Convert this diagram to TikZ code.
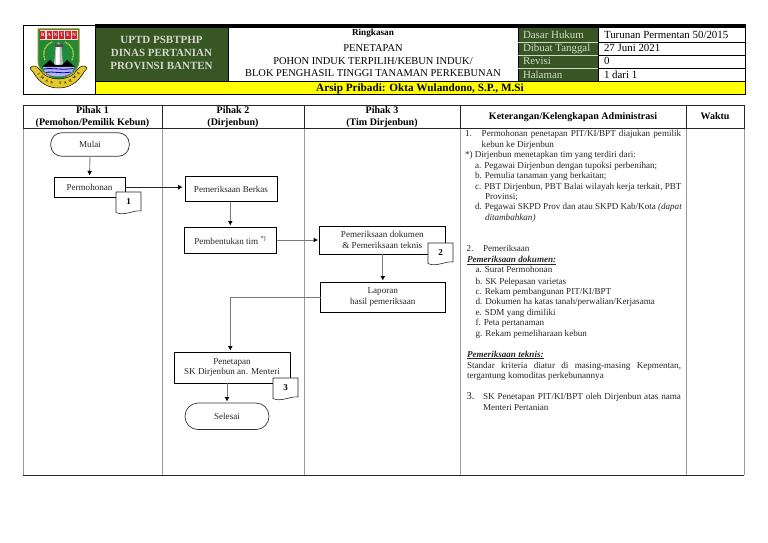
\documentclass[tikz,border=0pt]{standalone}
\usepackage{fontspec}
\setmainfont{Liberation Serif}
\usetikzlibrary{arrows.meta,calc}
\definecolor{hgreen}{HTML}{375623}
\definecolor{hlight}{HTML}{D4D8CC}
\definecolor{hyellow}{HTML}{FFFF00}
\definecolor{ink}{HTML}{262626}
\definecolor{lgray}{HTML}{9A9A9A}
\definecolor{cgray}{HTML}{7A7A7A}
\definecolor{lgold}{HTML}{E3C92B}
\definecolor{lgreen}{HTML}{1E8A3A}
\definecolor{lred}{HTML}{C8242B}
\tikzset{
  every node/.style={inner sep=0pt,outer sep=0pt},
  flowbox/.style={draw=black,line width=0.9pt,fill=white,align=center,font=\fontsize{9.1}{10.5}\selectfont,text=ink},
  term/.style={draw=black!80,line width=0.7pt,fill=white,rounded corners=11pt,align=center,font=\fontsize{9.1}{10}\selectfont,text=ink},
  docnum/.style={font=\fontsize{9}{10}\selectfont\bfseries},
  conn/.style={draw=cgray,line width=0.9pt,shorten >=1.5pt,-{Latex[length=4.5pt,width=5pt,black]}},
  connk/.style={draw=black!85,line width=0.6pt,shorten >=2.5pt,-{Latex[length=4.5pt,width=5pt,black]}},
  grid/.style={draw=lgray,line width=0.8pt},
  tbl/.style={draw=black!85,line width=0.9pt},
  body/.style={anchor=base west,font=\fontsize{9.1}{10}\selectfont,text=ink},
  hdr/.style={anchor=base,font=\fontsize{10}{10}\selectfont\bfseries,text=black},
  titl/.style={anchor=base,font=\fontsize{10.45}{10}\selectfont,text=black},
  uptd/.style={anchor=base,font=\fontsize{11}{10}\selectfont\bfseries,text=hlight},
  side/.style={anchor=base west,font=\fontsize{10.9}{10}\selectfont},
}
\newcommand{\just}[2]{\makebox[#1pt][s]{#2}}
% name, x, y (top-left), number
\newcommand{\docmark}[4]{%
  \draw[draw=black!85,line width=0.6pt,fill=white] (#2,#3) -- ++(25,0) -- ++(0,19)
    .. controls ++(-6,-1.5) and ++(8,4) .. ++(-25,1.5) -- cycle;
  \node[docnum] (#1) at (#2+12.5,#3+9.5) {#4};}
\begin{document}
\begin{tikzpicture}[x=1pt,y=-1pt]
\useasboundingbox (0,0) rectangle (768,543);
\fill[white] (0,0) rectangle (768,543);

% ---------- header
\fill[hgreen] (95,28) rectangle (228,81);
\fill[hgreen] (518,28) rectangle (598,81);
\fill[hyellow] (95,81) rectangle (745,94);
\fill[black] (95,24.5) rectangle (745.5,28);
\draw[draw=black,line width=0.8pt] (23.5,25) rectangle (745.5,94);
\draw[draw=black,line width=0.8pt] (95,25) -- (95,94) (95,81) -- (745.5,81);
\draw[draw=black,line width=0.6pt] (228,28) -- (228,81) (518,28) -- (518,81) (598,28) -- (598,81);
\foreach \yy in {42,55,68} \draw[draw=black,line width=0.7pt] (598,\yy) -- (745.5,\yy);
\foreach \yy in {42,55,68} \draw[draw=hlight,line width=0.3pt] (518,\yy) -- (598,\yy);

\node[uptd] (u1) at (161.5,44) {UPTD PSBTPHP};
\node[uptd] (u2) at (161.5,56.7) {DINAS PERTANIAN};
\node[uptd] (u3) at (161.5,70) {PROVINSI BANTEN};

\node[anchor=base,font=\fontsize{9.2}{10}\selectfont\bfseries] (t0) at (373,36) {Ringkasan};
\node[titl] (t1) at (373,52) {PENETAPAN};
\node[titl] (t2) at (373,64) {POHON INDUK TERPILIH/KEBUN INDUK/};
\node[titl] (t3) at (373,76) {BLOK PENGHASIL TINGGI TANAMAN PERKEBUNAN};
\node[anchor=base,font=\fontsize{11.2}{10}\selectfont\bfseries] (arsip) at (420,91) {Arsip Pribadi: Okta Wulandono, S.P., M.Si};

\node[side,text=hlight] (s1) at (523,38.5) {Dasar Hukum};
\node[side,text=hlight] (s2) at (523,51.7) {Dibuat Tanggal};
\node[side,text=hlight] (s3) at (523,65) {Revisi};
\node[side,text=hlight] (s4) at (523,78) {Halaman};
\node[side] (v1) at (604,38.5) {Turunan Permentan 50/2015};
\node[side] (v2) at (604,51.7) {27 Juni 2021};
\node[side] (v3) at (604,65) {0};
\node[side] (v4) at (604,78) {1 dari 1};

% ---------- logo
\path[draw=lgold!70!black,line width=1pt,fill=lgreen]
  (38,29) -- (79,29) -- (79,62) .. controls (78,72) and (68,76) .. (58.5,81)
  .. controls (49,76) and (39,72) .. (38,62) -- cycle;
\fill[white!85!red] (39.5,30) rectangle (77.5,40);
\foreach \c/\k in {B/0,A/1,N/2,T/3,E/4,N/5}
  \node[fill=lred,text=white,font=\fontsize{5}{5}\selectfont\bfseries,minimum width=5.2pt,minimum height=7.5pt]
    (ban\k) at ({42.8+6.3*\k},35) {\c};
\fill[gray!55] (55.5,47) -- (61.5,47) -- (63,65) -- (54,65) -- cycle;
\fill[white] (56.5,47) -- (59.5,47) -- (59.5,65) -- (55.5,65) -- cycle;
\fill[black!70] (54.5,44.5) rectangle (62.5,47);
\fill[gray!70] (58.5,42) -- (60.5,44.5) -- (56.5,44.5) -- cycle;
\fill[black] (42,67) -- (50,60) -- (55,65) -- (62,65) -- (67,60) -- (75,67) -- cycle;
\fill[white!70!blue] (43,67) -- (74,67) -- (72,72) .. controls (66,78) and (50,78) .. (45,72) -- cycle;
\draw[draw=blue!60!black,line width=0.8pt] (44,69) .. controls (52,67.5) and (62,70.5) .. (73,68.5);
\draw[draw=blue!60!black,line width=0.8pt] (46,72.5) .. controls (52,71) and (62,74) .. (71,72);
\draw[draw=lgold,line width=1.3pt,dash pattern=on 1pt off 0.6pt] (45,60) .. controls (42,52) and (44,46) .. (52,42);
\draw[draw=lgold,line width=1.3pt,dash pattern=on 1pt off 0.6pt] (72,60) .. controls (75,52) and (73,46) .. (65,42);
\draw[draw=black,line width=0.5pt,fill=lgold]
  (30,68) .. controls (33,64) and (37,66) .. (40,70)
  .. controls (47,82) and (70,82) .. (77,70)
  .. controls (80,66) and (84,64) .. (87,68)
  .. controls (86,70) and (85,71) .. (84,72)
  .. controls (77,84) and (68,88) .. (58.5,88)
  .. controls (49,88) and (40,84) .. (33,72)
  .. controls (32,71) and (31,70) .. (30,68) -- cycle;
\foreach \c/\t/\k in {I/-52/a,M/-40/b,A/-28/c,N/-16/d,T/4/e,A/16/f,Q/28/g,W/40/h,A/52/i}
  \node[rotate=\t,font=\fontsize{3.6}{4}\selectfont\bfseries,text=black]
    (rib\k) at ({58.5+25*sin(\t)},{58.5+25*cos(\t)}) {\c};

% ---------- table frame
\draw[grid] (23,128.5) -- (23,475) (162,128.5) -- (162,475) (304,128.5) -- (304,475)
  (460.5,128.5) -- (460.5,475) (686,128.5) -- (686,475) (744,128.5) -- (744,475);
\draw[tbl] (23,105.7) rectangle (744,128.5);
\draw[tbl] (162,105.7) -- (162,128.5) (304,105.7) -- (304,128.5) (460.5,105.7) -- (460.5,128.5) (686,105.7) -- (686,128.5);
\draw[tbl] (23,475.3) -- (744,475.3);

\node[hdr] (h1a) at (92.5,113.5) {Pihak 1};
\node[hdr] (h1b) at (92.5,125) {(Pemohon/Pemilik Kebun)};
\node[hdr] (h2a) at (233,113.5) {Pihak 2};
\node[hdr] (h2b) at (233,125) {(Dirjenbun)};
\node[hdr] (h3a) at (382,113.5) {Pihak 3};
\node[hdr] (h3b) at (382,125) {(Tim Dirjenbun)};
\node[hdr] (h4) at (573,119) {Keterangan/Kelengkapan Administrasi};
\node[hdr] (h5) at (715,119) {Waktu};

% ---------- flow nodes
\node[term,minimum width=78.5pt,minimum height=23.5pt] (mulai) at (90,144.5) {Mulai};
\node[flowbox,minimum width=71pt,minimum height=20.5pt] (perm) at (89.5,187.2) {Permohonan};
\node[flowbox,minimum width=92pt,minimum height=25pt] (berkas) at (231,189) {Pemeriksaan Berkas};
\node[flowbox,minimum width=92.5pt,minimum height=26pt] (tim) at (230.3,240) {Pembentukan tim \textsuperscript{*)}};
\node[flowbox,minimum width=125.5pt,minimum height=28pt] (dok) at (382.3,240) {Pemeriksaan dokumen\\\& Pemeriksaan teknis};
\node[flowbox,minimum width=124.5pt,minimum height=30pt] (lap) at (382.8,297) {Laporan\\hasil pemeriksaan};
\node[flowbox,minimum width=116pt,minimum height=31pt] (pen) at (232,367.5) {Penetapan\\SK Dirjenbun an. Menteri};
\node[term,rounded corners=13pt,minimum width=84pt,minimum height=26.5pt] (sel) at (227,416.3) {Selesai};

\docmark{d1}{116}{192}{1}
\docmark{d2}{428}{243}{2}
\docmark{d3}{273}{378}{3}

% ---------- connectors
\draw[conn] (mulai.south) -- (perm.north);
\draw[connk] (perm.east) -- (perm.east -| berkas.west);
\draw[conn] (berkas.south -| tim.north) -- (tim.north);
\draw[conn] (tim.east) -- (dok.west);
\draw[conn] (dok.south -| lap.north) -- (lap.north);
\draw[conn] (lap.west) -| (pen.north -| tim.south);
\draw[conn] (pen.south -| sel.north) -- (sel.north);

% ---------- right column
\node[body] (r1n) at (465,136.7) {1.};
\node[body] (r1) at (481.7,136.7) {\just{199.5}{Permohonan penetapan PIT/KI/BPT diajukan pemilik}};
\node[body] (r1b) at (481.7,147) {kebun ke Dirjenbun};
\node[body] (r2) at (465,157.5) {*) Dirjenbun menetapkan tim yang terdiri dari:};
\node[body] (ra) at (475,168) {a. Pegawai Dirjenbun dengan tupoksi perbenihan;};
\node[body] (rb) at (475,178.5) {b. Pemulia tanaman yang berkaitan;};
\node[body] (rc) at (475,189) {\just{206.5}{c. PBT Dirjenbun, PBT Balai wilayah kerja terkait, PBT}};
\node[body] (rc2) at (485,199) {Provinsi;};
\node[body] (rd) at (475,209.5) {\just{207}{d. Pegawai SKPD Prov dan atau SKPD Kab/Kota \textit{(dapat}}};
\node[body] (rd2) at (485,220) {\textit{ditambahkan)}};

\node[body] (q2n) at (466.7,251.7) {2.};
\node[body] (q2) at (483,251.7) {Pemeriksaan};
\node[body] (qh) at (467,262.7) {\textbf{\textit{\underline{Pemeriksaan dokumen:}}}};
\node[body] (qa) at (475.5,272.8) {a. Surat Permohonan};
\node[body] (qb) at (475.5,284) {b. SK Pelepasan varietas};
\node[body] (qc) at (475.5,294) {c. Rekam pembangunan PIT/KI/BPT};
\node[body] (qd) at (475.5,304) {d. Dokumen ha katas tanah/perwalian/Kerjasama};
\node[body] (qe) at (475.5,315) {e. SDM yang dimiliki};
\node[body] (qf) at (475.5,325) {f. Peta pertanaman};
\node[body] (qg) at (475.5,336.7) {g. Rekam pemeliharaan kebun};
\node[body] (qt) at (467,357) {\textbf{\textit{\underline{Pemeriksaan teknis:}}}};
\node[body] (qs) at (467,368) {\just{214}{Standar kriteria diatur di masing-masing Kepmentan,}};
\node[body] (qs2) at (467,378) {tergantung komoditas perkebunannya};
\node[body,font=\fontsize{10.5}{10}\selectfont] (p3n) at (466.5,399) {3.};
\node[body] (p3) at (483,399) {\just{198}{SK Penetapan PIT/KI/BPT oleh Dirjenbun atas nama}};
\node[body] (p3b) at (483,410) {Menteri Pertanian};
\end{tikzpicture}
\end{document}
